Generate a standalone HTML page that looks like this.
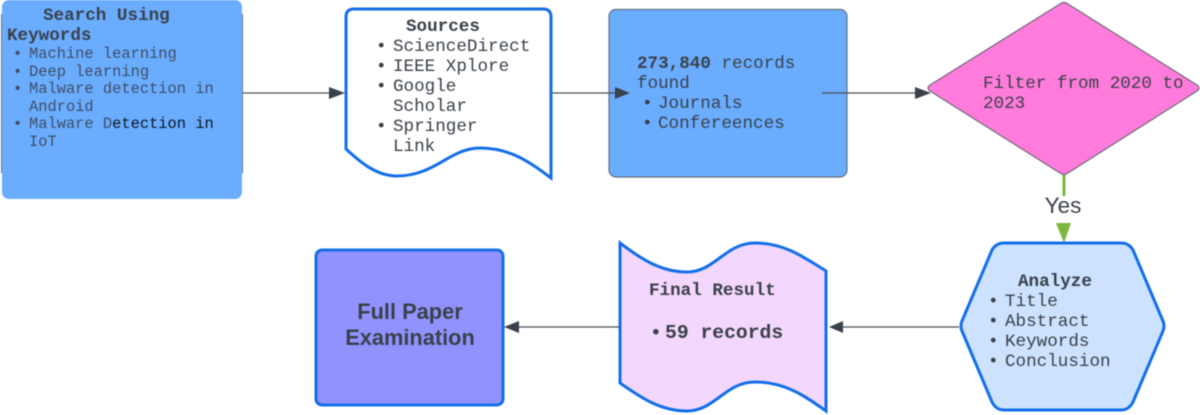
<!DOCTYPE html>
<html><head><meta charset="utf-8"><style>
html,body{margin:0;padding:0;background:#fff;width:1200px;height:415px;overflow:hidden}
svg{display:block;filter:blur(.45px)}
text{font-family:"Liberation Mono",monospace;fill:#3a414a;font-size:17.6px}
.b{font-weight:bold}
.s{font-size:15.4px;fill:#3f4d66}
.k{fill:#0c1626}
.a{font-family:"Liberation Sans",sans-serif}
</style></head><body>
<svg width="1200" height="415" viewBox="0 0 1200 415" xmlns="http://www.w3.org/2000/svg">
<!-- Box 1 -->
<rect x="1" y="14" width="242" height="159" fill="#6b7686"/>
<rect x="2" y="0" width="240" height="199" rx="7" fill="#6aadff"/>
<text class="b" x="43" y="20">Search Using</text>
<text class="b" x="7" y="40">Keywords</text>
<text class="s" x="13" y="58">•</text><text class="s" x="29" y="58">Machine learning</text>
<text class="s" x="13" y="76">•</text><text class="s" x="29" y="76">Deep learning</text>
<text class="s" x="13" y="93">•</text><text class="s" x="29" y="93">Malware detection in</text>
<text class="s" x="29" y="111">Android</text>
<text class="s" x="13" y="128">•</text><text class="s" x="29" y="128">Malware D<tspan class="s k">etection in</tspan></text>
<text class="s" x="29" y="146">IoT</text>
<!-- Sources -->
<path d="M346 149V17Q346 9 354 9H543Q551 9 551 17V178C530 162 510 148 480 148C450 148 435 176 397 176C375 176 358 160 346 149Z" fill="#fff" stroke="#136fe8" stroke-width="3"/>
<text class="b" x="406" y="31">Sources</text>
<text x="376" y="51">•</text><text x="393" y="51">ScienceDirect</text>
<text x="376" y="71">•</text><text x="393" y="71">IEEE Xplore</text>
<text x="376" y="91">•</text><text x="393" y="91">Google</text>
<text x="393" y="111">Scholar</text>
<text x="376" y="131">•</text><text x="393" y="131">Springer</text>
<text x="393" y="151">Link</text>
<!-- Box 3 -->
<rect x="609" y="9.500" width="238" height="167.500" rx="7" fill="#6aadff" stroke="#66707e" stroke-width="1.200"/>
<text x="637" y="68"><tspan class="b">273,840</tspan> records</text>
<text x="637" y="88">found</text>
<text x="642" y="108">•</text><text x="658" y="108">Journals</text>
<text x="642" y="128">•</text><text x="658" y="128">Confereences</text>
<!-- Diamond -->
<path d="M930 85L1060 4Q1064 1 1068 4L1197 85Q1201 88 1197 91L1068 173Q1064 176 1060 173L930 91Q926 88 930 85Z" fill="#ff7bdc" stroke="#6f6a78" stroke-width="1.200"/>
<text x="983" y="88">Filter from 2020 to</text>
<text x="983" y="108">2023</text>
<!-- Yes arrow -->
<rect x="1062.500" y="175" width="3" height="21" fill="#7cb83f"/>
<path d="M1056 223H1071L1064 243Z" fill="#7cb83f"/>
<text class="a" x="1063" y="213" text-anchor="middle" style="font-size:22.500px">Yes</text>
<!-- Hexagon -->
<path d="M962 321L992 250Q996 243 1004 243H1121Q1129 243 1133 250L1163 321Q1165 326 1163 331L1133 402Q1129 410 1121 410H1004Q996 410 992 402L962 331Q960 326 962 321Z" fill="#cce2ff" stroke="#136fe8" stroke-width="3"/>
<text class="b" x="1018" y="286">Analyze</text>
<text x="988" y="306">•</text><text x="1005" y="306">Title</text>
<text x="988" y="326">•</text><text x="1005" y="326">Abstract</text>
<text x="988" y="346">•</text><text x="1005" y="346">Keywords</text>
<text x="988" y="366">•</text><text x="1005" y="366">Conclusion</text>
<!-- Final result -->
<path d="M620 243C640 258 660 272 687 272C715 272 725 243 755 243C785 243 805 258 826 271V411C805 396 785 382 755 382C725 382 715 411 687 411C660 411 640 397 620 383Z" fill="#f3d7fc" stroke="#136fe8" stroke-width="3"/>
<text class="b" x="649" y="295">Final Result</text>
<text class="b" x="650" y="338" style="font-size:19.500px">•</text>
<text class="b" x="665" y="338" style="font-size:19.700px">59 records</text>
<!-- Full paper -->
<rect x="316" y="250" width="187" height="155" rx="6" fill="#9292ff" stroke="#136fe8" stroke-width="3"/>
<text x="410" y="319" text-anchor="middle" class="b a" style="font-size:21.800px">Full Paper</text>
<text x="410" y="345" text-anchor="middle" class="b a" style="font-size:21.800px">Examination</text>
<!-- Connectors -->
<g stroke="#4a5058" stroke-width="1.300" fill="none">
<path d="M243 93H330"/><path d="M552 93H616"/><path d="M822 93H917"/><path d="M959 327H842"/><path d="M620 327H517"/>
</g>
<g fill="#3a414a">
<path d="M329 87L345 93L329 99Z"/>
<path d="M615 87L630 93L615 99Z"/>
<path d="M915 87L931 93L915 99Z"/>
<path d="M843 321L829 327L843 333Z"/>
<path d="M519 321L504 327L519 333Z"/>
</g>
</svg>
</body></html>
